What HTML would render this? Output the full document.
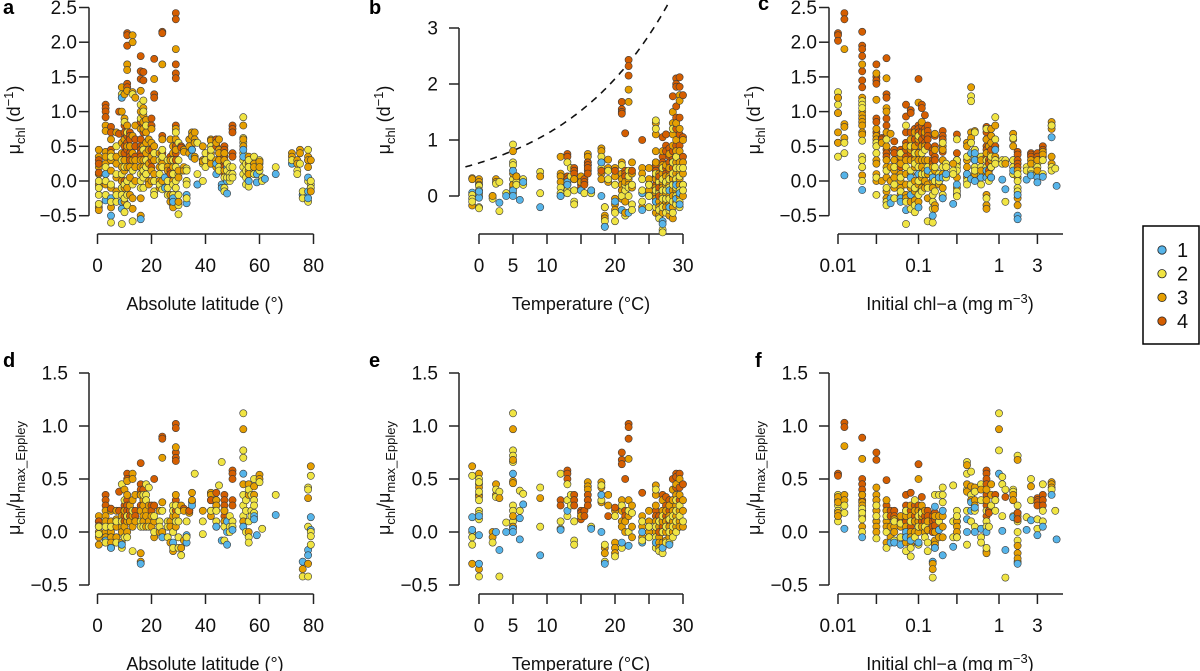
<!DOCTYPE html>
<html><head><meta charset="utf-8"><style>
html,body{margin:0;padding:0;background:#fff;}
svg{display:block;font-family:"Liberation Sans",Arial,sans-serif;}
</style></head><body>
<svg id="fig" width="1200" height="671" viewBox="0 0 1200 671" xmlns="http://www.w3.org/2000/svg"></svg>
<script>
// ---- data: [x, class, [y values]] ----
const latMu = [[0.5,3,[0.45,0.35,0.2,0.1,-0.05,-0.38,-0.42]],[0.5,4,[0.3,0.25,0.12]],[0.5,2,[-0.1,-0.2,-0.33,0.0]],[3,4,[1.1,1.05,1.0,0.92]],[3,3,[0.8,0.72,0.42,0.35,0.25,0.1,-0.05]],[3,1,[0.1,-0.28]],[3,2,[0.2,0.0,-0.2]],[5,4,[0.78,0.7,0.45]],[5,3,[0.6,0.4,0.3,0.15,-0.1,-0.38]],[5,1,[-0.5,-0.25]],[5,2,[0.35,-0.05,-0.6,-0.3]],[7,3,[0.7,0.35,0.25,0.05,-0.15]],[7,2,[0.5,0.1,-0.2,-0.3]],[8,4,[1.0,0.68]],[9,3,[1.35,1.2,1.0,0.55,0.4,0.2,0.0,-0.3]],[9,2,[1.25,0.3,0.1,-0.1,-0.62,-0.2]],[9,1,[1.2,-0.4,-0.3]],[10,4,[0.8,0.7,0.6,0.5,0.4,0.3,0.0]],[10,3,[1.25,0.9,0.6,0.3,0.15,-0.1,-0.3]],[10,2,[0.85,0.2,-0.05,-0.25,-0.45]],[11,4,[2.13,2.1,1.95,1.4,1.35,0.65,0.55,0.45]],[11,3,[1.68,1.6,1.3,0.8,0.5,0.2,-0.1]],[11,2,[0.7,0.0,-0.2,-0.35]],[12,4,[0.7,0.65,0.6,0.5,0.4,0.35,0.3]],[12,3,[0.5,0.2,0.05,-0.2]],[13,3,[2.1,2.0,1.28,0.65,0.4,0.3,-0.25,-0.4]],[13,2,[1.25,0.15,-0.05,-0.58]],[14,4,[0.6,0.5,0.35]],[14,3,[1.2,0.8,0.3,0.2,0.0]],[16,4,[1.8,1.58,1.47,0.85,0.6,0.5,0.45,0.4,0.35,0.2]],[16,3,[1.3,1.0,0.75,0.3,0.2,-0.25,-0.5]],[16,2,[1.1,0.9,0.1,0.0,-0.1]],[16,1,[-0.55]],[17,4,[1.57,1.45,0.8,0.7]],[17,3,[1.05,0.95,0.85,0.75,0.5,0.3,0.2,0.1]],[17,2,[1.16,1.0,0.45,0.15,0.05,-0.1]],[18,3,[0.88,0.7,0.55,0.4,0.2,0.1]],[18,2,[0.8,0.3,0.2,0.1]],[19,3,[0.6,0.45,0.25,0.0,-0.05]],[20,4,[0.9,0.8,0.45,0.3,0.2]],[20,3,[0.75,0.55,0.35,0.15,0.0]],[21,4,[1.76,1.25,1.2]],[21,3,[1.47,0.5,0.3,0.1,-0.2]],[21,2,[0.4,0.0,-0.15,-0.2]],[23,3,[0.4,0.2,0.0,-0.1]],[23,2,[0.3,0.1,-0.05]],[24,4,[2.15,2.13,0.65,0.4]],[24,3,[1.68,0.6,0.3,0.25,0.0]],[24,2,[0.35,0.45,0.2,-0.12]],[25,1,[-0.1,0.05]],[26,2,[0.3,0.0,-0.1,-0.2]],[26,3,[0.2,0.15]],[27,4,[0.35,0.15,0.1]],[27,3,[0.6,0.3,-0.2,-0.3]],[28,3,[0.5,0.4,0.2,0.0,-0.35,-0.38]],[28,2,[0.3,0.1,-0.05,-0.2,-0.28]],[28,1,[-0.25,-0.3]],[29,4,[2.42,2.33,1.68,1.55,1.48,0.8,0.5,0.4,0.3,0.2]],[29,3,[1.9,0.75,0.6,0.45]],[29,2,[0.7,0.2,0.0,-0.1]],[30,2,[0.55,0.3,0.1,-0.2,-0.35,-0.48]],[30,3,[0.15,0.05,-0.3]],[31,4,[0.5,0.48]],[32,3,[0.45,0.42,0.2,0.15]],[33,1,[0.0,-0.2,-0.32]],[33,2,[0.18,0.15,0.0,-0.05,-0.25]],[34,3,[0.6,0.5,0.4]],[35,3,[0.7,0.65,0.45]],[35,1,[0.45,0.35]],[36,3,[0.7,0.6,0.55,0.35,0.32]],[37,2,[0.55,0.1,-0.05]],[37,1,[-0.05]],[39,2,[0.3,0.25,0.0]],[39,3,[0.5,0.3,0.28]],[40,4,[0.3]],[40,2,[0.4,0.3,0.2]],[42,3,[0.6,0.58,0.4,0.3,0.25]],[42,2,[0.5,0.45,0.35]],[44,4,[0.6,0.55,0.5]],[44,3,[0.55,0.3,0.2]],[44,1,[0.25,0.1]],[45,3,[0.6,0.45,0.4,0.3]],[45,2,[0.2,0.15]],[46,1,[-0.05,-0.1]],[47,4,[0.5,0.45,0.4,0.35,0.3,0.25,0.2,0.1]],[47,3,[0.4,0.3,0.15]],[47,2,[0.05,-0.1,-0.15]],[48,1,[0.0,0.2,-0.18]],[48,2,[0.25,0.15,0.05]],[49,2,[0.2,0.1,0.0,0.05]],[50,4,[0.8,0.75,0.7,0.4,0.35]],[50,2,[0.2,0.1,0.05]],[54,2,[0.92,0.62,0.55,0.4,0.3,0.2,0.1]],[54,3,[0.8,0.6,0.5]],[54,1,[0.45,0.35]],[55,2,[0.25,0.15,0.05,-0.05]],[56,3,[0.35,0.25,0.15,0.1]],[56,2,[0.3,0.2,0.0,-0.08]],[56,1,[0.0]],[58,2,[0.35,0.25,0.2,0.1]],[58,3,[0.25,0.2]],[59,1,[-0.02,0.1]],[60,2,[0.3,0.25,0.15]],[60,3,[0.28,0.2]],[61,2,[0.05,0.0]],[62,1,[0.03]],[66,2,[0.2]],[66,1,[0.1]],[72,3,[0.4,0.35]],[72,1,[0.25]],[72,2,[0.3]],[74,2,[0.15,0.1]],[74,3,[0.3,0.25]],[75,3,[0.45,0.4]],[75,2,[0.25]],[76,1,[-0.2,-0.2]],[76,2,[-0.25,-0.15]],[78,2,[0.45,0.3,0.0,-0.3]],[78,3,[0.35,0.2,0.3]],[78,1,[-0.25,-0.15,0.05]],[79,2,[-0.05,0.0,-0.1]],[79,3,[0.3,-0.15]]];

const tempMu = [[-1,3,[0.32,0.3,-0.17]],[-1,1,[0.06]],[-1,2,[0.02,-0.05,-0.1]],[0,3,[0.3,0.25,0.2]],[0,2,[0.18,0.1,0.05,0.0]],[0,1,[-0.03,0.08]],[0,2,[-0.2,-0.22]],[2,2,[0.0,-0.05]],[2,3,[0.0]],[2.5,3,[0.3,0.25]],[2.5,2,[0.22]],[3,1,[-0.12]],[3,2,[-0.27,0.25]],[4,2,[0.05]],[4,1,[0.0]],[5,2,[0.92,0.6,0.55,0.3,0.15,0.05]],[5,3,[0.8,0.4,0.2]],[5,1,[0.45,0.1,0.0]],[5.5,2,[0.35,0.25,0.2]],[5.5,3,[0.35]],[6,1,[-0.07]],[6.5,2,[0.3,0.2]],[6.5,1,[0.25]],[9,2,[0.43,0.05]],[9,3,[0.35]],[9,1,[-0.2]],[12,3,[0.7,0.4,0.35,0.25]],[12,2,[0.15,0.05,0.0]],[12,1,[0.0]],[13,4,[0.75,0.7,0.35,0.3]],[13,2,[0.6,0.2,0.1,0.05]],[13,1,[0.25,0.2]],[13.5,2,[0.5,0.35]],[14,4,[0.5,0.45,0.4,0.3]],[14,2,[0.1,-0.1,-0.15]],[14,3,[0.3]],[15,4,[0.3,0.25,0.2,0.15]],[15,3,[0.35,0.25]],[15,1,[0.1]],[15.5,4,[0.3,0.25,0.2]],[15.5,2,[0.05]],[16,3,[0.75,0.7,0.6,0.55,0.45]],[16,4,[0.6,0.55,0.5,0.4]],[16.5,2,[0.1,0.05]],[16.5,1,[0.1]],[18,3,[0.85,0.8,0.6,0.4,0.3]],[18,2,[0.7,0.5]],[18,1,[0.6,0.0]],[18,4,[0.45]],[18.5,3,[-0.2,-0.35,-0.4]],[18.5,2,[-0.55,-0.45,-0.2]],[18.5,1,[-0.55]],[19,3,[0.65,0.5,0.25]],[19,2,[0.45,0.3]],[20,3,[0.5,0.35,-0.05,-0.15,-0.25]],[20,2,[0.2,-0.3,-0.45]],[20,1,[-0.1]],[20,4,[0.45]],[21,4,[1.68,1.55,1.5,1.47]],[21,3,[0.6,0.4,0.3,0.2,0.1,-0.05]],[21,2,[0.55,0.0]],[21,1,[-0.25]],[21.5,4,[1.12,0.45,0.4,0.35]],[21.5,2,[-0.35,0.1,0.2]],[21.5,3,[0.25,-0.1,-0.3]],[22,4,[2.43,2.32,2.15]],[22,3,[1.9,1.68,0.3,0.2]],[22,2,[0.45,0.35,0.15,0.0]],[22,1,[-0.3]],[22.5,3,[0.6,0.4,0.15]],[22.5,2,[-0.15,-0.25,0.2]],[22.5,4,[0.45]],[24,4,[1.0]],[24,3,[0.5,0.4,-0.2]],[24,1,[0.05,-0.25]],[24,2,[0.3,0.1,-0.1]],[25,3,[0.5,0.3,0.2,0.1,0.0]],[25,2,[0.2,0.0,-0.2]],[26,4,[0.6,0.55,0.45,0.4,0.35,0.3,0.2]],[26,3,[1.3,1.1,0.8,0.6,0.3,0.15,0.05,-0.05,-0.3]],[26,2,[1.35,1.2,0.4,0.1,-0.1,-0.2]],[26,1,[-0.1]],[26.5,3,[0.4,0.3,0.2,0.1,0.0,-0.1,-0.2,-0.35]],[26.5,2,[0.25,0.05,-0.25,-0.4]],[26.5,4,[0.35,0.15,0.0]],[27,4,[1.05,0.7,0.6,0.45,0.3,0.2,0.1]],[27,3,[0.8,0.55,0.4,0.25,0.15,0.0,-0.15,-0.3]],[27,2,[0.5,0.3,0.1,-0.05,-0.2,-0.6,-0.65]],[27,1,[-0.45,-0.5]],[27.5,4,[1.1,0.9,0.8,0.5,0.4,0.25]],[27.5,3,[0.55,0.35,0.2,0.05,-0.1,-0.2]],[27.5,2,[0.25,0.1,-0.05,-0.3]],[28,4,[0.85,0.7,0.6,0.45,0.3]],[28,3,[0.75,0.5,0.35,0.2,0.0,-0.15,-0.35]],[28,2,[0.3,0.15,-0.05,-0.25]],[28,1,[0.1,-0.2]],[28.5,4,[1.78,0.8,0.65,0.5,0.35]],[28.5,3,[1.5,1.3,1.1,0.9,0.6,0.3,0.2,0.1,0.0,-0.2,-0.4]],[28.5,2,[1.2,0.6,0.4,0.2,-0.1,-0.3]],[29,4,[2.1,2.0,1.95,1.6,1.4,1.2,0.9,0.7,0.5]],[29,3,[1.3,1.0,0.8,0.6,0.4,0.25,0.1,-0.1]],[29,2,[0.7,0.5,0.3,0.15,0.0,-0.15]],[29,1,[0.2,-0.05]],[29.5,4,[2.12,1.95,1.4,1.1,0.9]],[29.5,3,[1.8,1.7,1.2,0.8,0.6,0.4,0.3,0.2,0.0]],[29.5,2,[0.5,0.35,0.1,-0.1,-0.2]],[29.5,1,[0.05,-0.15]],[30,4,[1.8,1.05,0.7]],[30,3,[1.0,0.6,0.4,0.2,0.0]],[30,2,[0.5,0.2,0.1]]];

const chlMu = [[0.01,4,[2.13,2.1,2.02]],[0.01,2,[1.28,1.2,1.1,0.98,0.55,0.35]],[0.01,3,[1.2,0.98,0.7,0.55]],[0.012,4,[2.42,2.33]],[0.012,3,[1.9,0.82,0.78,0.62]],[0.012,2,[0.55,0.4]],[0.012,1,[0.08]],[0.02,4,[2.15,1.95,1.9,1.8,1.58,1.45,1.35]],[0.02,3,[1.68,1.2,1.0,0.95,0.9,0.85,0.8,0.7,0.67,0.2,0.08]],[0.02,2,[1.15,1.1,1.05,0.58,0.35,0.3,0.2,0.0]],[0.02,1,[-0.13]],[0.03,4,[1.68,1.5,1.45,1.4,0.9,0.85,0.7,0.5]],[0.03,3,[1.55,1.17,0.75,0.65,0.6,0.3,0.25,0.1,0.0]],[0.03,2,[0.55,0.5,0.4,0.05,-0.2]],[0.035,4,[0.62,0.6,0.55]],[0.035,3,[0.55,0.0]],[0.04,4,[1.77,1.25,1.2,0.9,0.8,0.65,0.45,0.4,0.35]],[0.04,3,[1.48,1.05,1.0,0.7,0.5,0.3,0.2,0.05,-0.15,-0.25]],[0.04,2,[0.6,0.15,-0.1,-0.3,-0.35]],[0.045,3,[0.68,0.2,0.0]],[0.045,1,[-0.25,-0.32]],[0.05,4,[0.57,0.45,0.4,0.3]],[0.05,3,[0.3,0.15,0.05,-0.1]],[0.05,2,[0.2,-0.05,-0.25]],[0.06,4,[0.45,0.4,0.3,0.2]],[0.06,3,[0.35,0.25,0.1,0.0,-0.1,-0.2]],[0.06,2,[0.4,0.05,-0.15]],[0.06,1,[-0.25,-0.3]],[0.07,4,[1.1,0.93,0.7,0.55,0.45,0.35]],[0.07,3,[0.5,0.3,0.1,-0.05,-0.2,-0.25]],[0.07,2,[0.8,0.2,-0.3,-0.62]],[0.07,1,[-0.42]],[0.08,4,[1.02,0.98,0.7,0.5,0.4]],[0.08,3,[0.6,0.45,0.3,0.1,-0.1,-0.2,-0.3]],[0.08,2,[0.5,0.15,-0.05,-0.4]],[0.08,1,[0.05,-0.2]],[0.09,4,[0.75,0.6,0.45,0.35]],[0.09,3,[0.7,0.5,0.3,0.2,0.0,-0.15,-0.28]],[0.09,2,[0.4,0.25,-0.1,-0.45,-0.35]],[0.1,4,[1.47,0.8,0.75,0.7,0.55,0.4]],[0.1,3,[1.13,0.6,0.4,0.3,0.1,-0.05,-0.3]],[0.1,2,[0.65,0.2,0.0,-0.2]],[0.1,1,[0.1,-0.38]],[0.11,4,[1.1,1.05,0.8,0.7,0.6]],[0.11,3,[0.85,0.5,0.3,0.2,0.05,-0.1]],[0.11,2,[0.4,0.1,-0.15]],[0.12,4,[0.95,0.75,0.65,0.55]],[0.12,3,[0.7,0.5,0.3,0.15,0.0,-0.1]],[0.12,2,[0.45,0.1]],[0.13,4,[0.8,0.72,0.65,0.6,0.5]],[0.13,3,[0.3,0.1,-0.05,-0.25]],[0.13,2,[0.2,-0.1,-0.58]],[0.13,1,[0.15]],[0.15,4,[0.45,0.4,0.3,0.25,0.1]],[0.15,3,[0.2,0.0,-0.1,-0.2,-0.3]],[0.15,2,[0.1,-0.2,-0.3,-0.4,-0.6]],[0.15,1,[-0.5,0.05]],[0.16,4,[0.65,0.5,0.35,0.3]],[0.16,3,[0.68,0.45,0.15,-0.35,-0.4]],[0.16,2,[0.2,0.0,-0.15]],[0.18,3,[0.05,0.0,-0.05]],[0.18,2,[0.1,0.0]],[0.18,1,[0.05]],[0.2,4,[0.72,0.65,0.6,0.42,0.3]],[0.2,3,[0.5,0.45,0.3,0.1,-0.1]],[0.2,2,[0.55,0.2,-0.2,-0.25]],[0.2,1,[-0.25,0.05]],[0.22,2,[0.25,0.2,0.05]],[0.22,1,[0.1]],[0.3,4,[0.67,0.4,0.3]],[0.3,3,[0.3,0.25,0.05,-0.1,-0.2]],[0.3,2,[0.6,0.3,0.2,0.15,-0.15,-0.22]],[0.3,1,[-0.05]],[0.27,1,[-0.33]],[0.27,3,[0.25]],[0.27,2,[0.15,0.1]],[0.4,3,[0.55,0.5,0.3,0.2,0.05]],[0.4,2,[0.35,0.1,0.0,-0.05]],[0.4,1,[0.1]],[0.45,3,[1.35,0.7,0.62]],[0.45,2,[1.22,1.15,0.55]],[0.45,1,[0.4,0.03]],[0.5,3,[0.72,0.45,0.3,0.2,0.1]],[0.5,2,[0.7,0.45,0.35,0.2,0.15]],[0.5,1,[0.4,0.3,0.0]],[0.6,2,[0.35,0.2,0.1,-0.05]],[0.6,3,[0.3,0.15]],[0.6,1,[0.05]],[0.7,4,[0.78,0.75,0.7,0.6,0.5,0.45,0.35]],[0.7,3,[0.6,0.4,0.2,0.1,-0.2,-0.35,-0.4]],[0.7,2,[0.75,0.3,0.2,0.05,-0.25]],[0.7,1,[0.05,0.15]],[0.75,4,[0.3,0.25,0.15]],[0.75,3,[0.5,0.1]],[0.75,2,[0.0]],[0.8,3,[0.75,0.65,0.55,0.4,0.3]],[0.8,4,[0.45,0.2]],[0.8,2,[0.35,0.2,0.05]],[0.8,1,[0.05]],[0.9,3,[0.8,0.35,0.3]],[0.9,2,[0.92,0.6,0.3,0.25]],[0.9,4,[0.5]],[0.9,1,[0.45]],[1.1,1,[0.02]],[1.1,2,[0.3,0.25]],[1.2,1,[-0.12]],[1.2,2,[-0.3,0.3]],[1.2,3,[0.25]],[1.5,3,[0.68,0.6,0.5,0.3,0.2,0.1]],[1.5,2,[0.62,0.3,0.2,0.1]],[1.5,1,[0.15]],[1.7,4,[0.42,0.38,0.3,0.25,0.2]],[1.7,3,[0.15,0.05,-0.25,-0.35]],[1.7,2,[0.1,0.0,-0.1,-0.15]],[1.7,1,[-0.2,-0.5,-0.55]],[2.2,1,[0.02]],[2.2,2,[0.2,0.15]],[2.5,4,[0.4,0.38,0.35]],[2.5,3,[0.3,0.25]],[2.5,2,[0.15,0.1]],[2.5,1,[0.08]],[3,4,[0.4,0.35,0.3,0.28]],[3,2,[0.25,0.2,0.1,0.05]],[3,1,[0.05,-0.02]],[3,3,[0.3,0.15]],[3.5,4,[0.5,0.45,0.4,0.35]],[3.5,3,[0.42,0.38]],[3.5,2,[0.3,0.1]],[3.5,1,[0.06]],[4.5,3,[0.85,0.8,0.75,0.35,0.25]],[4.5,2,[0.8,0.2,0.15]],[4.5,1,[0.63]],[5,2,[0.18]],[5.2,1,[-0.07]]];

const latRatio = [[0.5,3,[0.15,0.1,0.05,0.0,-0.05,-0.12]],[0.5,4,[0.1,0.06]],[0.5,2,[-0.02,0.05]],[3,4,[0.35,0.3,0.25]],[3,3,[0.2,0.15,0.1,0.0,-0.05]],[3,1,[-0.08]],[3,2,[0.05,-0.1]],[5,3,[0.2,0.1,0.0,-0.05,-0.1]],[5,2,[-0.15,0.05]],[5,1,[-0.15]],[5,4,[0.22]],[7,3,[0.2,0.12,0.05,-0.05]],[7,2,[0.1,-0.1]],[8,4,[0.38,0.2]],[9,3,[0.15,0.1,0.05,0.0,-0.1]],[9,2,[0.45,0.1,-0.15]],[9,1,[-0.12]],[10,4,[0.25,0.2,0.15,0.1]],[10,3,[0.4,0.2,0.05,-0.05]],[10,2,[0.3,-0.05]],[11,4,[0.55,0.5,0.3,0.25,0.2,0.15]],[11,3,[0.48,0.35,0.1,0.0]],[11,2,[0.15,-0.05]],[12,4,[0.2,0.15,0.1]],[12,3,[0.25,0.1]],[13,3,[0.55,0.5,0.3,0.15,0.05]],[13,2,[0.2,-0.18]],[14,4,[0.2,0.15]],[14,3,[0.35,0.1]],[16,4,[0.65,0.45,0.4,0.35,0.25]],[16,3,[0.35,0.2,-0.2,-0.28]],[16,1,[-0.3]],[16,2,[0.1,0.05]],[17,4,[0.4,0.3]],[17,3,[0.3,0.25,0.15,0.1]],[17,2,[0.35,0.05]],[18,3,[0.2,0.15,0.05]],[18,2,[0.45,0.35,0.3]],[19,3,[0.25,0.1]],[19,2,[0.42,0.05]],[20,4,[0.25,0.2]],[20,3,[0.15,0.05]],[21,4,[0.5,0.25]],[21,3,[0.1,-0.05]],[21,2,[0.15,0.0]],[23,3,[0.2,0.0]],[23,2,[0.1,0.05]],[24,4,[0.9,0.88]],[24,3,[0.7,0.28,0.0]],[24,1,[-0.05]],[24,2,[0.2]],[26,2,[0.1,0.05,-0.05]],[27,3,[0.1,0.05,-0.1]],[28,3,[0.15,-0.18]],[28,1,[-0.1]],[28,2,[0.25,0.2,0.0,-0.15]],[29,4,[1.02,0.98,0.75,0.7,0.67,0.3,0.2]],[29,3,[0.8,0.35,0.15,0.05]],[29,2,[0.25,0.1]],[30,2,[0.2,0.1,-0.05,-0.15]],[31,3,[0.25,-0.15]],[31,2,[-0.22]],[32,4,[0.22]],[32,3,[0.2,-0.08]],[33,1,[-0.03,-0.1]],[33,2,[0.1,-0.05]],[34,3,[0.2,0.18]],[34,4,[0.2]],[35,1,[0.28,0.25]],[35,3,[0.37,0.3]],[36,2,[0.55]],[39,2,[0.1,-0.02]],[39,3,[0.2]],[42,3,[0.37,0.35,0.2,0.15]],[42,2,[0.3,0.2]],[42,4,[0.3]],[44,4,[0.37,0.3,0.25]],[44,3,[0.3,0.25]],[44,2,[0.2,0.1,0.05]],[44,1,[0.05]],[45,2,[0.44]],[46,1,[-0.08]],[46,2,[0.66]],[47,4,[0.35,0.3,0.25,0.2,0.15]],[47,3,[0.2,0.1]],[47,2,[0.05,-0.08]],[48,1,[0.0,-0.12,0.1]],[49,2,[0.15,0.05,0.0]],[50,4,[0.58,0.55,0.5,0.3,0.25]],[50,2,[0.1,0.05]],[50,1,[0.02]],[54,2,[1.12,0.77,0.7,0.35,0.25,0.15]],[54,3,[0.97,0.45,0.1]],[54,1,[0.55,0.05]],[55,2,[0.3,0.2,0.0]],[56,3,[0.45,0.35,0.0]],[56,2,[0.4,0.1,-0.05,-0.1]],[57,2,[0.35,0.2,0.15]],[58,3,[0.43,0.35]],[58,2,[0.5,0.3,0.25,0.18]],[58,1,[0.15,0.12]],[59,1,[-0.03]],[60,3,[0.54,0.5]],[60,2,[0.47]],[61,2,[0.03]],[66,2,[0.35]],[66,1,[0.16]],[76,1,[-0.28]],[76,3,[-0.35]],[76,2,[-0.42]],[78,2,[0.42,0.4,0.05,-0.42]],[78,3,[0.32,-0.3]],[78,1,[-0.17,-0.22]],[79,1,[0.14,0.02]],[79,2,[0.0,-0.04,-0.12,0.53]],[79,3,[0.62]]];

const tempRatio = [[-1,3,[0.62,-0.3]],[-1,2,[0.53,0.0,-0.05,-0.12]],[-1,1,[0.14,0.02]],[0,3,[0.55,0.45,0.42,0.35,0.33,-0.35]],[0,2,[0.5,0.47,0.38,0.3,0.2,0.17,0.12,-0.42]],[0,1,[0.15,-0.03,-0.3]],[2,3,[0.0,-0.05]],[2,2,[-0.1]],[2.5,3,[0.45,0.35]],[2.5,2,[0.4,0.33]],[2.5,1,[0.0]],[3,1,[-0.17]],[3,2,[-0.42,0.38]],[3,3,[0.32]],[4,2,[0.09]],[4,1,[0.0]],[5,2,[1.12,0.77,0.72,0.66,0.25,0.2,0.1]],[5,3,[0.97,0.68,0.48,0.46,0.15,0.05]],[5,1,[0.55,0.03,0.0]],[6,2,[0.39,0.2]],[6,1,[0.13,-0.07]],[6.5,2,[0.36]],[6.5,1,[0.26]],[9,2,[0.42,0.05]],[9,3,[0.32]],[9,1,[-0.22]],[12,2,[0.55,0.1,0.03]],[12,4,[0.3,0.25]],[12,1,[0.02]],[13,4,[0.58,0.55,0.5]],[13,2,[0.45,0.3,0.15]],[13,1,[0.2]],[13.5,2,[0.35,0.25]],[14,4,[0.35,0.3,0.25]],[14,2,[0.1,-0.08,-0.12]],[15,4,[0.2,0.18,0.15,0.12]],[15,3,[0.15]],[15.5,4,[0.2,0.15]],[16,3,[0.47,0.43,0.4,0.3]],[16,4,[0.35,0.3,0.25]],[16.5,2,[0.05]],[16.5,1,[0.03]],[18,3,[0.47,0.42,0.35,0.28]],[18,2,[0.44,0.3]],[18,1,[0.35,0.0]],[18.5,3,[-0.15,-0.2]],[18.5,2,[-0.28,-0.12]],[18.5,1,[-0.3]],[19,3,[0.35,0.25]],[19,4,[0.15]],[20,3,[0.2,-0.1,-0.15,-0.2]],[20,2,[0.15,-0.23]],[20,4,[0.23]],[21,4,[0.75,0.68,0.64]],[21,3,[0.3,0.2,0.1,0.05]],[21,2,[0.25,-0.15]],[21,1,[-0.1]],[21.5,4,[0.5,0.2,0.15]],[21.5,3,[0.1,0.0]],[22,4,[1.02,0.99,0.88]],[22,3,[0.69,0.3,0.15]],[22,2,[0.2,0.0]],[22,1,[-0.13]],[22.5,3,[0.25,0.05,-0.05]],[22.5,2,[0.18]],[24,4,[0.37]],[24,3,[0.15,0.05,-0.05]],[24,1,[0.0,-0.1]],[24,2,[0.1,-0.08]],[25,3,[0.2,0.1,0.0]],[25,2,[0.05,-0.05]],[26,4,[0.2,0.15,0.1,0.05]],[26,3,[0.44,0.35,0.25,0.1,0.0,-0.1]],[26,2,[0.4,0.05,-0.05,-0.15]],[26,1,[-0.1]],[26.5,3,[0.15,0.05,-0.05,-0.1,-0.15]],[26.5,4,[0.15,0.1,0.0]],[26.5,2,[0.1,-0.18]],[27,4,[0.35,0.2,0.15,0.1,0.05]],[27,3,[0.3,0.2,0.1,0.0,-0.1]],[27,2,[0.15,0.0,-0.15,-0.2]],[27,1,[-0.15]],[27.5,4,[0.33,0.25,0.15,0.1]],[27.5,3,[0.2,0.1,0.0,-0.08]],[27.5,2,[0.05,-0.1]],[28,4,[0.3,0.2,0.1,0.05]],[28,3,[0.25,0.15,0.05,-0.05]],[28,2,[0.12,0.0,-0.1]],[28,1,[-0.12]],[28.5,4,[0.5,0.4,0.3,0.2]],[28.5,3,[0.4,0.3,0.2,0.1,0.0]],[28.5,2,[0.15,0.05,-0.05]],[29,4,[0.55,0.52,0.42,0.35,0.25,0.15]],[29,3,[0.45,0.35,0.25,0.15,0.05]],[29,2,[0.3,0.2,0.1,0.0]],[29.5,4,[0.55,0.42,0.3]],[29.5,3,[0.5,0.35,0.2,0.1,0.05]],[29.5,2,[0.25,0.15]],[30,4,[0.45]],[30,3,[0.3,0.2,0.05]],[30,2,[0.1]]];

const chlRatio = [[0.01,4,[0.55,0.53]],[0.01,2,[0.35,0.3,0.25,0.2,0.15,0.1]],[0.01,3,[0.33,0.28,0.18,0.15]],[0.012,4,[1.03,0.99]],[0.012,3,[0.81,0.35,0.3]],[0.012,2,[0.25,0.18]],[0.012,1,[0.03]],[0.02,4,[0.89,0.5,0.45,0.4,0.35,0.3]],[0.02,3,[0.69,0.35,0.28,0.25,0.2,0.15,0.05]],[0.02,2,[0.22,0.18,0.12,0.0]],[0.02,1,[-0.05]],[0.03,4,[0.75,0.68,0.3,0.25,0.2,0.15,0.1]],[0.03,3,[0.42,0.35,0.3,0.2,0.1,0.05,0.0]],[0.03,2,[0.25,0.15,-0.06]],[0.04,4,[0.49,0.25,0.2,0.15]],[0.04,3,[0.3,0.2,0.1,0.05,-0.1]],[0.04,2,[0.15,0.0,-0.15]],[0.045,4,[0.2,0.15]],[0.045,3,[0.05,-0.05]],[0.045,1,[-0.1]],[0.05,4,[0.2,0.15,0.1]],[0.05,3,[0.12,0.05,0.0]],[0.05,2,[0.1,-0.08]],[0.05,1,[-0.1]],[0.06,4,[0.15,0.1]],[0.06,3,[0.15,0.05,-0.05]],[0.06,2,[0.08,-0.05]],[0.06,1,[-0.12]],[0.07,4,[0.35,0.25,0.2,0.1]],[0.07,3,[0.15,0.05,-0.05,-0.1]],[0.07,2,[0.2,-0.18]],[0.07,1,[0.0,-0.05]],[0.08,4,[0.37,0.2,0.1,0.05]],[0.08,3,[0.25,0.15,0.0,-0.05,-0.12]],[0.08,2,[0.1,-0.15,-0.23]],[0.08,1,[-0.08]],[0.09,4,[0.25,0.15,0.1]],[0.09,3,[0.2,0.1,0.0]],[0.09,2,[0.3,-0.05]],[0.1,4,[0.64,0.25,0.2,0.1]],[0.1,3,[0.5,0.2,0.1,0.0,-0.1]],[0.1,2,[0.15,0.05,-0.12]],[0.1,1,[-0.1]],[0.11,4,[0.33,0.2,0.15,0.1]],[0.11,3,[0.25,0.15,0.05]],[0.11,2,[0.18]],[0.12,4,[0.15,0.1,0.05]],[0.12,3,[0.2,0.0]],[0.12,2,[0.05,-0.05]],[0.13,4,[0.2,0.15]],[0.13,3,[0.1,0.02]],[0.13,2,[-0.18,-0.1]],[0.15,1,[-0.28]],[0.15,3,[-0.3,-0.35]],[0.15,2,[-0.43,0.0]],[0.15,4,[0.15,0.1,0.05,0.0]],[0.16,4,[0.18,0.12,0.06,-0.1]],[0.16,3,[0.15,0.0,-0.08,-0.12]],[0.16,2,[0.35,-0.15]],[0.16,1,[0.24,-0.15]],[0.18,2,[0.35,0.1]],[0.18,3,[0.15,-0.05]],[0.18,1,[0.02]],[0.2,3,[0.15,0.05,-0.05]],[0.2,2,[0.42,0.35,0.28]],[0.2,1,[0.2,-0.22]],[0.27,1,[-0.14]],[0.27,2,[0.44,0.1,-0.05]],[0.3,4,[0.15,0.1]],[0.3,3,[0.1,0.05,-0.05,0.0]],[0.3,2,[0.2,0.15,-0.05]],[0.4,2,[0.66,0.55,0.4,0.2,-0.12]],[0.4,3,[0.63,0.45,0.38]],[0.4,1,[0.12,0.0]],[0.45,2,[0.57,0.35,0.1]],[0.45,3,[0.43,0.3]],[0.45,1,[0.2,0.28]],[0.5,3,[0.42,0.3,0.25]],[0.5,2,[0.38,0.2,0.05]],[0.5,1,[0.23,0.0]],[0.6,2,[0.45,0.3,-0.05,-0.1]],[0.6,3,[0.4]],[0.6,1,[0.03]],[0.7,4,[0.58,0.55,0.5,0.45,0.35,0.25,0.15]],[0.7,3,[0.4,0.3,-0.18,-0.2]],[0.7,2,[0.2,0.1,0.05,-0.15]],[0.7,1,[0.0]],[0.75,4,[0.2,0.18]],[0.75,2,[0.05]],[0.8,3,[0.45,0.35]],[0.8,2,[0.25]],[0.9,4,[0.35,0.3]],[0.9,2,[0.3,0.2]],[1,2,[1.12,0.77]],[1,3,[0.97]],[1,1,[0.55]],[1.1,1,[0.01]],[1.1,2,[0.52,0.45,0.15]],[1.2,4,[0.33]],[1.2,1,[-0.17]],[1.2,2,[-0.43,0.4]],[1.5,2,[0.4,0.38,0.3,0.15]],[1.5,3,[0.35,0.3]],[1.5,1,[0.14]],[1.7,2,[0.72,0.25,0.1,0.0,-0.08,-0.28]],[1.7,3,[0.68,0.18,0.15,-0.13,-0.2,-0.25]],[1.7,4,[0.18,0.12]],[1.7,1,[-0.3]],[2.2,1,[0.02]],[2.2,2,[0.14]],[2.5,2,[0.5,0.3]],[2.5,3,[0.43]],[2.5,1,[0.11]],[3,4,[0.32,0.3,0.28,0.25]],[3,2,[0.12,0.03]],[3,1,[-0.03]],[3.5,4,[0.35,0.3,0.25]],[3.5,2,[0.45,0.2,0.1]],[3.5,1,[0.05]],[4.5,3,[0.47,0.45,0.42]],[4.5,2,[0.4]],[4.5,1,[0.35]],[5,2,[0.2]],[5.2,1,[-0.07]]];

const latTicks = [0,20,40,60,80];
const tempTicks = [0,5,10,15,20,25,30];
const tempLabels = [0,5,10,20,30];
const chlTicks = [0.01,0.03,0.1,0.3,1,3];
const chlLabels = [0.01,0.1,1,3];
const muTicksHalf = [-0.5,0,0.5,1,1.5,2,2.5];
const muTicksInt = [0,1,2,3];
const ratioTicks = [-0.5,0,0.5,1,1.5];
const classes = [1,2,3,4];
const classColors = {1:'#56B4E9',2:'#F0E442',3:'#E69F00',4:'#D55E00'};

const NS='http://www.w3.org/2000/svg';
const svg=document.getElementById('fig');
function mk(tag,attrs,parent){const e=document.createElementNS(NS,tag);for(const k in attrs)e.setAttribute(k,attrs[k]);(parent||svg).appendChild(e);return e;}
function lin(v0,p0,v1,p1){return v=>p0+(v-v0)*(p1-p0)/(v1-v0);}
function logS(v0,p0,v1,p1){const a=Math.log10(v0),b=Math.log10(v1);return v=>p0+(Math.log10(v)-a)*(p1-p0)/(b-a);}
function fmt(v,dec){return (v<0?'\u2212':'')+Math.abs(v).toFixed(dec);}

function panel(o){
  const g=mk('g',{});
  
  
  const sx=o.sx, sy=o.sy;
  const L=mk('text',{x:o.lx,y:o.ly,'font-size':20,'font-weight':'bold',fill:'#000'},g);L.textContent=o.letter;
  
  const ya=mk('g',{},g);
  mk('line',{x1:o.ax,x2:o.ax,y1:sy(o.yt[0]),y2:sy(o.yt[o.yt.length-1]),stroke:'#222','stroke-width':1.5},ya);
  o.yt.forEach(v=>{
    mk('line',{x1:o.ax-10,x2:o.ax,y1:sy(v),y2:sy(v),stroke:'#222','stroke-width':1.5},ya);
    const t=mk('text',{x:o.ax-o.lgap,y:sy(v)+6.5,'text-anchor':'end','font-size':19,fill:'#111'},ya);
    t.textContent=fmt(v,o.ydec);
    
  });
  const xa=mk('g',{},g);
  mk('line',{x1:sx(o.xt[0]),x2:o.xEnd||sx(o.xt[o.xt.length-1]),y1:o.ay,y2:o.ay,stroke:'#222','stroke-width':1.5},xa);
  o.xt.forEach(v=>mk('line',{x1:sx(v),x2:sx(v),y1:o.ay,y2:o.ay+10,stroke:'#222','stroke-width':1.5},xa));
  o.xl.forEach(v=>{
    const t=mk('text',{x:sx(v),y:o.ay+38,'text-anchor':'middle','font-size':19,fill:'#111'},xa);
    t.textContent=String(v);
    
  });
  const xt=mk('text',{x:o.xtx,y:o.ay+76,'text-anchor':'middle','font-size':18,fill:'#111'},g);
  xt.innerHTML=o.xtitle;
  
  const yt=mk('text',{x:0,y:0,'text-anchor':'middle','font-size':18,fill:'#111',transform:`translate(${o.ytx},${o.yty}) rotate(-90)`},g);
  yt.innerHTML=o.ytitle;
  
  if(o.extra)o.extra(g,sx,sy);
  const pg=mk('g',{},g);
  o.data.forEach(([x,c,ys])=>ys.forEach(y=>{
    const p=mk('circle',{cx:sx(x).toFixed(1),cy:sy(y).toFixed(1),r:3.6,fill:classColors[c],stroke:'#3a3a3a','stroke-width':0.6},pg);
    
    
  }));
}
const muTitle='μ<tspan font-size="13" dy="5">chl</tspan><tspan dy="-5"> (d</tspan><tspan font-size="13" dy="-7">−1</tspan><tspan dy="7">)</tspan>';
const ratioTitle='μ<tspan font-size="13" dy="5">chl</tspan><tspan dy="-5">/μ</tspan><tspan font-size="13" dy="5">max_Eppley</tspan>';
const chlTitle='Initial chl−a (mg m<tspan font-size="13" dy="-7">−3</tspan><tspan dy="7">)</tspan>';

const topY=lin(0,181,2.5,7.5), botY=lin(0,532,1.5,373);
const latX=lin(0,97.5,80,313.5), tX=lin(0,479,30,683), cX=logS(0.01,838,1,999);

panel({name:'panel-a',letter:'a',lx:3,ly:14,sx:latX,sy:topY,ax:89,ay:234,lgap:12,yt:muTicksHalf,ydec:1,xt:latTicks,xl:latTicks,xtx:205,xtitle:'Absolute latitude (°)',ytx:20,yty:120,ytitle:muTitle,data:latMu});
panel({name:'panel-b',letter:'b',lx:369,ly:14,sx:tX,sy:lin(0,196,3,28),ax:459,ay:234,lgap:21,yt:muTicksInt,ydec:0,xt:tempTicks,xl:tempLabels,xtx:581,xtitle:'Temperature (°C)',ytx:390,yty:120,ytitle:muTitle,data:tempMu,
  extra:(g,sx,sy)=>{let d='';for(let T=-2;T<=31;T+=0.2){const v=0.59*Math.exp(0.0633*T);const py=sy(v);if(py<0){break;}d+=(d?'L':'M')+sx(T).toFixed(1)+','+py.toFixed(1);}
    const p=mk('path',{d:d,fill:'none',stroke:'#111','stroke-width':1.6,'stroke-dasharray':'7,6'},g);}});
panel({name:'panel-c',letter:'c',lx:758,ly:10,sx:cX,sy:topY,ax:829,ay:234,lgap:12,yt:muTicksHalf,ydec:1,xt:chlTicks,xl:chlLabels,xtx:950,xtitle:chlTitle,ytx:760,yty:120,ytitle:muTitle,data:chlMu,xEnd:1063});
panel({name:'panel-d',letter:'d',lx:3,ly:367,sx:latX,sy:botY,ax:89,ay:594,lgap:21,yt:ratioTicks,ydec:1,xt:latTicks,xl:latTicks,xtx:205,xtitle:'Absolute latitude (°)',ytx:20,yty:478,ytitle:ratioTitle,data:latRatio});
panel({name:'panel-e',letter:'e',lx:369,ly:367,sx:tX,sy:botY,ax:459,ay:594,lgap:21,yt:ratioTicks,ydec:1,xt:tempTicks,xl:tempLabels,xtx:581,xtitle:'Temperature (°C)',ytx:390,yty:478,ytitle:ratioTitle,data:tempRatio});
panel({name:'panel-f',letter:'f',lx:755,ly:367,sx:cX,sy:botY,ax:829,ay:594,lgap:21,yt:ratioTicks,ydec:1,xt:chlTicks,xl:chlLabels,xtx:950,xtitle:chlTitle,ytx:760,yty:478,ytitle:ratioTitle,data:chlRatio,xEnd:1063});

const lg=mk('g',{});


mk('rect',{x:1143,y:226,width:56,height:118,fill:'#fff',stroke:'#000','stroke-width':1.5},lg);
classes.forEach((c,i)=>{
  const e=mk('g',{},lg);
  
  
  mk('circle',{cx:1162,cy:250+i*23.7,r:4.2,fill:classColors[c],stroke:'#222','stroke-width':0.8},e);
  const t=mk('text',{x:1177,y:257+i*23.7,'font-size':20,fill:'#111'},e);t.textContent=String(c);
});
</script>
</body></html>
